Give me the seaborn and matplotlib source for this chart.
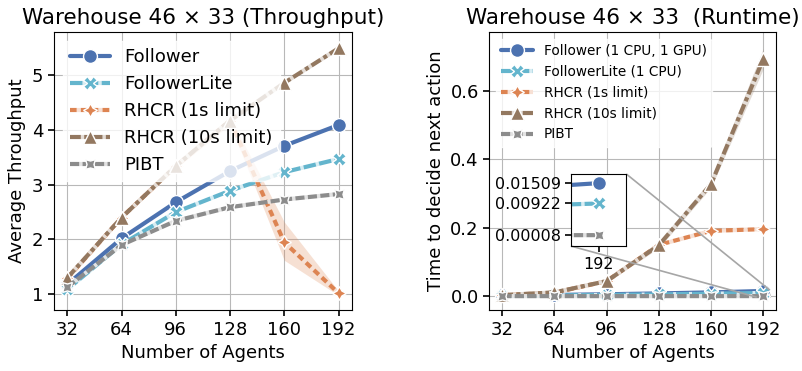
import pandas as pd
import numpy as np
import matplotlib
matplotlib.use("Agg")
import matplotlib.pyplot as plt
import matplotlib.colors as mcolors
import seaborn as sns
from mpl_toolkits.axes_grid1.inset_locator import mark_inset

# ---- datos ----
agentes = [32, 64, 96, 128, 160, 192]
algoritmos = ["Follower", "FollowerLite", "RHCR (1s limit)", "RHCR (10s limit)", "PIBT"]
etiquetas_runtime = ["Follower (1 CPU, 1 GPU)", "FollowerLite (1 CPU)",
                     "RHCR (1s limit)", "RHCR (10s limit)", "PIBT"]

# throughput
thr_follower = [1.18, 2.02, 2.68, 3.25, 3.71, 4.09]
thr_follower_lite = [1.09, 1.91, 2.50, 2.89, 3.23, 3.47]
thr_rhcr_1s = [1.29, 2.40, 3.34, 4.17, 1.95, 1.02]
thr_rhcr_10s = [1.30, 2.40, 3.34, 4.17, 4.86, 5.49]
thr_pibt = [1.13, 1.90, 2.34, 2.59, 2.73, 2.83]
# banda de confianza RHCR 1s
thr_rhcr_1s_lo = [1.27, 2.37, 3.30, 4.10, 1.62, 0.98]
thr_rhcr_1s_hi = [1.31, 2.43, 3.38, 4.24, 2.32, 1.06]

# runtime (segundos)
rt_follower = [0.0021, 0.0035, 0.0055, 0.0080, 0.0110, 0.01509]
rt_follower_lite = [0.0012, 0.0022, 0.0035, 0.0052, 0.0072, 0.00922]
rt_rhcr_1s = [0.003, 0.010, 0.044, 0.150, 0.191, 0.196]
rt_rhcr_10s = [0.003, 0.011, 0.044, 0.149, 0.328, 0.694]
rt_pibt = [0.00002, 0.00003, 0.00004, 0.00005, 0.00006, 0.00008]
rt_rhcr_10s_lo = [0.002, 0.009, 0.040, 0.141, 0.318, 0.665]
rt_rhcr_10s_hi = [0.004, 0.013, 0.048, 0.157, 0.338, 0.725]

zoom_valores = [0.01509, 0.00922, 0.00008]

# ---- tabla larga para seaborn ----
def armar_tabla(series):
    filas = []
    for nombre, valores in zip(algoritmos, series):
        for a, v in zip(agentes, valores):
            filas.append({"Agentes": a, "Algoritmo": nombre, "Valor": v})
    return pd.DataFrame(filas)

df_thr = armar_tabla([thr_follower, thr_follower_lite, thr_rhcr_1s, thr_rhcr_10s, thr_pibt])
df_rt = armar_tabla([rt_follower, rt_follower_lite, rt_rhcr_1s, rt_rhcr_10s, rt_pibt])

colores = {"Follower": "#4c72b0", "FollowerLite": "#64b5cd",
           "RHCR (1s limit)": "#dd8452", "RHCR (10s limit)": "#937860", "PIBT": "#8c8c8c"}
marcadores = {"Follower": "o", "FollowerLite": "X", "RHCR (1s limit)": (4, 1, 0),
              "RHCR (10s limit)": "^", "PIBT": (4, 1, 45)}
guiones = {"Follower": "", "FollowerLite": (3, 0.8), "RHCR (1s limit)": (1.6, 1),
           "RHCR (10s limit)": (2.6, 0.8, 1, 0.8), "PIBT": (2.2, 0.8)}

sns.set_style("whitegrid", {"axes.edgecolor": "black", "grid.color": "#b8b8b8",
                            "xtick.bottom": True, "ytick.left": True,
                            "text.color": "black", "xtick.color": "black",
                            "ytick.color": "black", "axes.labelcolor": "black"})
plt.rcParams['font.family'] = ['DejaVu Sans']

fig = plt.figure(figsize=(8.02, 3.71), dpi=100)
ax1 = fig.add_axes([0.067, 0.164, 0.372, 0.75])
ax2 = fig.add_axes([0.610, 0.164, 0.358, 0.75])

estilo = dict(x="Agentes", y="Valor", hue="Algoritmo", style="Algoritmo",
              palette=colores, markers=marcadores, dashes=guiones,
              linewidth=3, markersize=10, markeredgecolor="white", markeredgewidth=1)


def aclarar_huecos(ax):
    # los huecos de las lineas punteadas se ven claros (banda de confianza debajo)
    for linea in ax.lines:
        if linea.get_linestyle() not in ("-", "None"):
            c = np.array(mcolors.to_rgb(linea.get_color()))
            linea.set_gapcolor(tuple(c * 0.25 + 0.75))


# ---- panel izquierdo: throughput ----
sns.lineplot(data=df_thr, ax=ax1, **estilo)
ax1.fill_between(agentes, thr_rhcr_1s_lo, thr_rhcr_1s_hi, color=colores["RHCR (1s limit)"],
                 alpha=0.25, lw=0)
aclarar_huecos(ax1)
ax1.set_xticks(agentes)
ax1.set_yticks([1, 2, 3, 4, 5])
ax1.set_ylim(0.71, 5.79)
ax1.set_title("Warehouse 46 × 33 (Throughput)", fontsize=15.5)
ax1.set_xlabel("Number of Agents", fontsize=13)
ax1.set_ylabel("Average Throughput", fontsize=13)
ax1.tick_params(labelsize=13, length=4, width=1.2)
ax1.legend(title=None, loc="upper left", fontsize=13, framealpha=0.8, edgecolor="white",
           handlelength=2.2)

# ---- panel derecho: runtime ----
sns.lineplot(data=df_rt, ax=ax2, **estilo)
ax2.fill_between(agentes, rt_rhcr_10s_lo, rt_rhcr_10s_hi, color=colores["RHCR (10s limit)"],
                 alpha=0.25, lw=0)
aclarar_huecos(ax2)
ax2.set_xticks(agentes)
ax2.set_yticks([0.0, 0.2, 0.4, 0.6])
ax2.set_ylim(-0.041, 0.773)
ax2.set_title("Warehouse 46 × 33  (Runtime)", fontsize=15.5)
ax2.set_xlabel("Number of Agents", fontsize=13)
ax2.set_ylabel("Time to decide next action", fontsize=13)
ax2.tick_params(labelsize=13, length=4, width=1.2)
handles, _ = ax2.get_legend_handles_labels()
ax2.legend(handles, etiquetas_runtime, loc="upper left", fontsize=9.8, framealpha=0.8,
           edgecolor="white", handlelength=2.3)

# ---- inset con zoom en 192 ----
axins = ax2.inset_axes([0.286, 0.230, 0.192, 0.259])
df_zoom = df_rt[df_rt["Algoritmo"].isin(["Follower", "FollowerLite", "PIBT"])]
sns.lineplot(data=df_zoom, ax=axins, legend=False, **estilo)
aclarar_huecos(axins)
axins.set_xlim(188, 196)
axins.set_ylim(-0.0031, 0.0177)
axins.set_xticks([192])
axins.set_yticks(zoom_valores)
axins.set_yticklabels([f"{v:.5f}" for v in zoom_valores])
axins.set_xlabel("")
axins.set_ylabel("")
axins.grid(False)
axins.set_facecolor("white")
axins.tick_params(labelsize=11.5, length=4, width=1.2)
for s in axins.spines.values():
    s.set_edgecolor("black")
mark_inset(ax2, axins, loc1=1, loc2=3, fc="none", ec="0.65", lw=1.2)

plt.savefig("out.png", dpi=100)
